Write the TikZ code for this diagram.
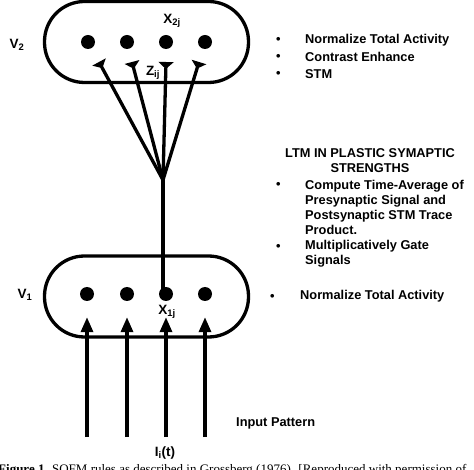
\documentclass[tikz,border=0pt]{standalone}
\usepackage{fontspec}
\setmainfont{Liberation Sans}
\newfontfamily\capfont{Liberation Serif}
\usetikzlibrary{arrows.meta}

\begin{document}
\begin{tikzpicture}[
    x=1pt, y=-1pt,
    layer/.style={%
      draw,
      line width=3.3pt,
      rectangle,
      rounded corners=40pt,
      minimum width=204pt,
      minimum height=81pt,
    },
    cell/.style={circle, fill, inner sep=0pt, minimum size=14pt},
    lab/.style={font=\bfseries\fontsize{13.5}{15}\selectfont, inner sep=0pt},
    note/.style={font=\bfseries\fontsize{12.8}{15}\selectfont, inner sep=0pt, anchor=west, align=left},
    synapse/.style={line width=3.3pt, -{Triangle[reversed, width=15pt, length=7pt]}},
    feed/.style={line width=3.3pt, -{Triangle[width=12pt, length=15pt]}, shorten >=16pt},
    wire/.style={line width=3.3pt},
  ]
    \useasboundingbox (0,0) rectangle (474,470);

    % layers
    \node [layer] (V2) at (146.5,42) {};
    \node [layer] (V1) at (146.5,296.5) {};
    \node [lab] (V2lab) at (17,45) {V\textsubscript{2}};
    \node [lab] (V1lab) at (25,295) {V\textsubscript{1}};

    % cells
    \node [cell] (t1) at (88,42) {};
    \node [cell] (t2) at (127,42) {};
    \node [cell] (t3) at (166,42) {};
    \node [cell] (t4) at (205,42) {};
    \node [cell] (b1) at (87,294) {};
    \node [cell] (b2) at (127,294) {};
    \node [cell] (b3) at (166,294) {};
    \node [cell] (b4) at (205,294) {};

    \node [lab] (x2j) at (172,21) {X\textsubscript{2j}};
    \node [lab] (zij) at (153,73) {Z\textsubscript{ij}};
    \node [lab] (x1j) at (167,312) {X\textsubscript{1j}};
    \node [lab] (inp) at (165,453) {I\textsubscript{i}(t)};

    % adaptive paths
    \coordinate (hub) at (163,180);
    \coordinate (s1) at (99,62);
    \coordinate (s2) at (132,62);
    \coordinate (s3) at (166,62);
    \coordinate (s4) at (199,62);
    \draw [synapse] (hub) -- (s1);
    \draw [synapse] (hub) -- (s2);
    \draw [synapse] (hub) -- (s3);
    \draw [synapse] (hub) -- (s4);
    \draw [wire] (hub) -- (hub |- b3.center);

    % inputs
    \coordinate (i1) at (87,437);
    \coordinate (i2) at (127,437);
    \coordinate (i3) at (166,437);
    \coordinate (i4) at (205,437);
    \draw [feed] (i1) -- (b1);
    \draw [feed] (i2) -- (b2);
    \draw [feed] (i3) -- (b3);
    \draw [feed] (i4) -- (b4);

    % notes
    \node [note] (d1) at (276,40) {\textbullet};
    \node [note] (d2) at (276,57) {\textbullet};
    \node [note] (d3) at (276,74) {\textbullet};
    \node [note] (n1) at (305,40) {Normalize Total Activity};
    \node [note] (n2) at (305,57) {Contrast Enhance};
    \node [note] (n3) at (305,74) {STM};

    \node [note, anchor=center, align=center] (ltm) at (370,160.5) {LTM IN PLASTIC SYMAPTIC\\STRENGTHS};
    \node [note] (d4) at (276,185) {\textbullet};
    \node [note] (d5) at (276,247) {\textbullet};
    \node [note] (n4) at (305,207.5) {Compute Time-Average of\\Presynaptic Signal and\\Postsynaptic STM Trace\\Product.};
    \node [note] (n5) at (305,254) {Multiplicatively Gate\\Signals};

    \node [note] (d6) at (270,297) {\textbullet};
    \node [note] (n6) at (300,296) {Normalize Total Activity};
    \node [note] (n7) at (236,423) {Input Pattern};

    \node [anchor=base west, inner sep=0pt, font=\capfont\fontsize{13}{14}\selectfont] (cap) at (-2,473)
      {\textbf{Figure 1.} SOFM rules as described in Grossberg (1976). [Reproduced with permission of};
\end{tikzpicture}
\end{document}
